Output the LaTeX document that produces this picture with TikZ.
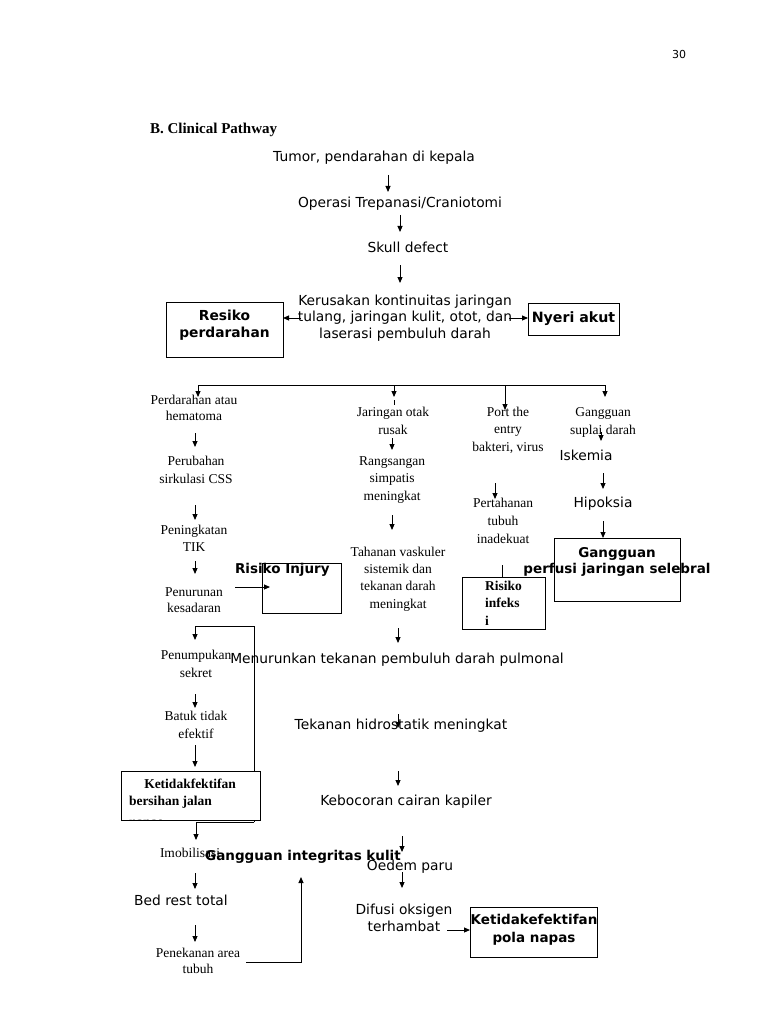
\documentclass[tikz,border=0pt]{standalone}
\usepackage{fontspec}
\setmainfont{Liberation Serif}
\newfontfamily\sansf{DejaVu Sans}
\usetikzlibrary{arrows.meta,calc}
\begin{document}
\begin{tikzpicture}[x=1pt,y=-1pt,
  every node/.style={inner sep=0pt, outer sep=0pt},
  sf/.style={font=\sansf\fontsize{13.8}{16.5}\selectfont, align=center},
  sfb/.style={font=\sansf\bfseries\fontsize{13.5}{17}\selectfont, align=center},
  rm/.style={font=\fontsize{13.5}{17.3}\selectfont, align=center},
  rmb/.style={font=\bfseries\fontsize{13.5}{17.5}\selectfont},
  box/.style={draw, line width=0.9pt, fill=white},
  arr/.style={line width=0.9pt, -{Triangle[length=6pt,width=5pt]}},
  ln/.style={line width=0.9pt}]
\useasboundingbox (0,0) rectangle (768,1024);
\fill[white] (0,0) rectangle (768,1024);

% header
\node[font=\sansf\fontsize{11}{13}\selectfont] (pg) at (679,54) {30};
\node[anchor=west,font=\bfseries\fontsize{15}{18}\selectfont] (title) at (150,130) {B. Clinical Pathway};

% top chain
\node[sf] (tumor) at (374,158) {Tumor, pendarahan di kepala};
\node[sf] (oper) at (400,204) {Operasi Trepanasi/Craniotomi};
\node[sf] (skull) at (408,247) {Skull defect};
\node[sf] (kerus) at (405,318) {Kerusakan kontinuitas jaringan\\tulang, jaringan kulit, otot, dan\\laserasi pembuluh darah};
\draw[arr] ($(tumor)+(14,17)$) -- ($(oper)+(-12,-12)$);
\draw[arr] ($(oper)+(0,11)$) -- ($(skull)+(-8,-15)$);
\draw[arr] ($(skull)+(-8,18)$) -- ($(kerus)+(-5,-35)$);

\node[box,minimum width=117,minimum height=55] (resikob) at (224.5,329.5) {};
\node[sfb,font=\sansf\bfseries\fontsize{13.8}{17.5}\selectfont] (resiko) at (224.5,325) {Resiko\\perdarahan};
\node[box,minimum width=91,minimum height=32] (nyerib) at (573.5,319) {};
\node[sfb,font=\sansf\bfseries\fontsize{14.2}{17}\selectfont] (nyeri) at (573.5,319) {Nyeri akut};
\draw[arr] ($(kerus)+(-104,0)$) -- (resikob.east |- kerus);
\draw[arr] ($(kerus)+(104,0)$) -- (nyerib.west |- kerus);

% bus
\coordinate (b1) at (198,385);
\coordinate (b2) at (394,385);
\coordinate (b3) at (505,385);
\coordinate (b4) at (605,385);
\draw[ln] (b1) -- (b4);

\node[rm,font=\fontsize{13.5}{15.5}\selectfont] (perd) at (194,408) {Perdarahan atau\\hematoma};
\node[rm] (jar) at (393,421) {Jaringan otak\\rusak};
\node[rm,font=\fontsize{13.5}{17.5}\selectfont] (port) at (508,430) {Port the\\entry\\bakteri, virus};
\node[rm,font=\fontsize{13.5}{18}\selectfont] (suplai) at (603,422) {Gangguan\\suplai darah};
\draw[arr] (b1) -- ($(perd)+(4,-11)$);
\draw[arr] (b2) -- ($(jar)+(1,-24)$);
\draw[ln] ($(jar)+(1,-21)$) -- ($(jar)+(1,-16)$);
\draw[arr] (b3) -- ($(port)+(-3,-20)$);
\draw[arr] (b4) -- ($(suplai)+(2,-25)$);

% left column
\node[rm] (perub) at (196,470) {Perubahan\\sirkulasi CSS};
\node[rm] (pening) at (194,538) {Peningkatan\\TIK};
\node[rm,font=\fontsize{13.5}{16}\selectfont] (penur) at (194,600) {Penurunan\\kesadaran};
\draw[arr] ($(perd)+(1,25)$) -- ($(perub)+(-1,-23)$);
\draw[arr] ($(perub)+(-1,35)$) -- ($(pening)+(1,-18)$);
\draw[arr] ($(pening)+(1,23)$) -- ($(penur)+(1,-26)$);

\node[box,minimum width=79,minimum height=50] (injb) at (301.5,588) {};
\node[sfb,anchor=west] (inj) at (235,570) {Risiko Injury};
\draw[arr] ($(penur)+(41,-13)$) -- ($(injb)+(-31.5,-1)$);

\node[rm] (penum) at (196,664) {Penumpukan\\sekret};
\node[rm] (batuk) at (196,725) {Batuk tidak\\efektif};
\node[rm] (imob) at (190,853) {Imobilisasi};
\draw[arr] ($(penum)+(-1,30)$) -- ($(batuk)+(-1,-17)$);

\coordinate (lTL) at (195,626);
\coordinate (lTR) at (254,626);
\coordinate (lBR) at (254,822);
\coordinate (lBL) at (196,822);
\draw[arr] (lBR) -- (lTR) -- (lTL) -- ($(penum)+(-1,-24)$);
\draw[arr] (lBR) -- (lBL) -- ($(imob)+(6,-13)$);

\node[box,minimum width=139,minimum height=49] (ketb) at (190.5,795.5) {};
\draw[arr] ($(batuk)+(-1,20)$) -- ($(ketb)+(4.5,-28.5)$);
\begin{scope}
\clip (ketb.north west) rectangle (ketb.south east);
\node[rmb] (ket1) at (190,784) {Ketidakfektifan};
\node[rmb,anchor=west] (ket2) at (129,802) {bersihan jalan};
\node[rmb,anchor=base west] (ket3) at (129,826) {napas};
\end{scope}

\node[sfb] (integ) at (303,857) {Gangguan integritas kulit};
\node[sf] (bed) at (181,900) {Bed rest total};
\node[rm,font=\fontsize{13.5}{16}\selectfont] (penek) at (198,961) {Penekanan area\\tubuh};
\draw[arr] ($(imob)+(5,20)$) -- ($(bed)+(14,-11)$);
\draw[arr] ($(bed)+(14,25)$) -- ($(penek)+(-3,-19)$);
\draw[arr] ($(penek)+(48,1)$) -- ++(55,0) -- ($(integ)+(-2,20)$);

% middle column
\node[rm,font=\fontsize{13.5}{17.5}\selectfont] (rang) at (392,480) {Rangsangan\\simpatis\\meningkat};
\node[rm] (tahan) at (398,579) {Tahanan vaskuler\\sistemik dan\\tekanan darah\\meningkat};
\node[sf] (menur) at (397,660) {Menurunkan tekanan pembuluh darah pulmonal};
\node[sf] (hidro) at (401,726) {Tekanan hidrostatik meningkat};
\node[sf] (kebo) at (406,802) {Kebocoran cairan kapiler};
\node[sf] (oedem) at (410,867) {Oedem paru};
\node[sf] (difusi) at (404,918) {Difusi oksigen\\terhambat};
\draw[arr] ($(jar)+(-1,17)$) -- ($(rang)+(0,-30)$);
\draw[arr] ($(rang)+(0,35)$) -- ($(tahan)+(-6,-49)$);
\draw[arr] ($(tahan)+(0,49)$) -- ($(menur)+(1,-17)$);
\draw[arr] ($(menur)+(1,54)$) -- ($(hidro)+(-3,2)$);
\draw[arr] ($(hidro)+(-3,45)$) -- ($(kebo)+(-8,-16)$);
\draw[arr] ($(kebo)+(-4,34)$) -- ($(oedem)+(-8,-15)$);
\draw[arr] ($(oedem)+(-8,5)$) -- ($(difusi)+(-2,-30)$);

\node[box,minimum width=127,minimum height=50] (polab) at (533.5,932) {};
\node[sfb,font=\sansf\bfseries\fontsize{13.5}{18}\selectfont] (pola) at (534,930) {Ketidakefektifan\\pola napas};
\draw[arr] ($(difusi)+(43,12)$) -- ($(polab)+(-63.5,-2)$);

% port column
\node[rm,font=\fontsize{13.5}{18}\selectfont] (perta) at (503,521) {Pertahanan\\tubuh\\inadekuat};
\draw[arr] ($(port)+(-13,53)$) -- ($(perta)+(-8,-22)$);
\node[box,minimum width=83,minimum height=52] (infb) at (503.5,603) {};
\draw[ln] ($(perta)+(-1,44)$) -- ($(infb)+(-1.5,-26)$);
\begin{scope}
\clip (infb.north west) rectangle (infb.south east);
\node[rmb,align=left,anchor=north west] (inf) at (485,581) {Risiko\\infeks\\i};
\end{scope}

% right column
\node[sf] (isk) at (586,455) {Iskemia};
\node[sf] (hip) at (603,504) {Hipoksia};
\node[box,minimum width=126,minimum height=63] (ggb) at (617,569.5) {};
\node[sfb,font=\sansf\bfseries\fontsize{13.5}{16}\selectfont] (gg) at (617,562) {Gangguan\\perfusi jaringan selebral};
\draw[arr] ($(suplai)+(-2,10)$) -- ($(isk)+(15,-14)$);
\draw[arr] ($(isk)+(17,18)$) -- ($(hip)+(0,-15)$);
\draw[arr] ($(hip)+(0,17)$) -- ($(ggb)+(-14,-31.5)$);
\end{tikzpicture}
\end{document}
